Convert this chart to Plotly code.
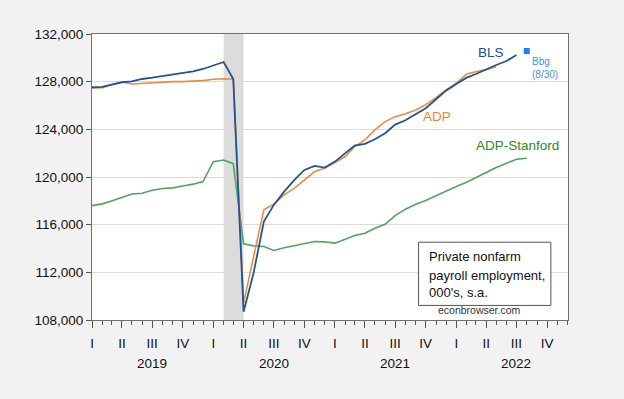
import plotly.graph_objects as go

months = [f"{y}-{m:02d}-01" for y in range(2019, 2023) for m in range(1, 13)][:44]

bls = [127530, 127555, 127750, 127950, 128030, 128225, 128335, 128480, 128590, 128700, 128870, 129065,
       129340, 129650, 128225, 108700, 111930, 116260, 117660, 118775, 119756, 120595, 120930, 120790,
       121290, 121995, 122630, 122775, 123165, 123670, 124400, 124763, 125240, 125770, 126520, 127245,
       127807, 128335, 128645, 129040, 129400, 129735, 130240]

adp = [127470, 127500, 127750, 127975, 127807, 127860, 127920, 127950, 128000, 128000, 128030, 128085,
       128200, 128250, 128200, 109420, 113300, 117240, 117720, 118500, 119060, 119756, 120455, 120735,
       121210, 121715, 122550, 123110, 123950, 124650, 125065, 125300, 125630, 126070, 126660, 127300,
       127865, 128645, 128840, 129010, 129260]

adp_stanford = [117600, 117745, 117995, 118305, 118580, 118640, 118890, 119030, 119085, 119250, 119400, 119615,
                121290, 121430, 121120, 114390, 114220, 114165, 113830, 114055, 114220, 114390, 114585, 114560,
                114448, 114780, 115085, 115280, 115700, 116035, 116760, 117300, 117720, 118020, 118440, 118810,
                119195, 119565, 119925, 120370, 120790, 121155, 121490, 121575]

bbg_month = ["2022-08-01"]
bbg_value = [130574]

quarter_ticks = [f"{y}-{m:02d}-01" for y in range(2019, 2023) for m in (1, 4, 7, 10)]
quarter_labels = ["I", "II", "III", "IV"] * 4
years = ["2019", "2020", "2021", "2022"]

FONT = "Arial, Liberation Sans, sans-serif"
fig = go.Figure()

fig.add_trace(go.Scatter(x=months[:len(adp_stanford)], y=adp_stanford, mode="lines",
                         line=dict(color="#4ea65c", width=1.6), name="ADP-Stanford"))
fig.add_trace(go.Scatter(x=months[:len(adp)], y=adp, mode="lines",
                         line=dict(color="#ec8a3e", width=1.6), name="ADP"))
fig.add_trace(go.Scatter(x=months[:len(bls)], y=bls, mode="lines",
                         line=dict(color="#1f5596", width=1.8), name="BLS"))
fig.add_trace(go.Scatter(x=bbg_month, y=bbg_value, mode="markers",
                         marker=dict(symbol="square", size=6, color="#1a80ff"), name="Bbg"))

# recession shading
fig.add_shape(type="rect", xref="x", yref="paper", x0="2020-02-01", x1="2020-04-01", y0=0, y1=1,
              fillcolor="#dcdcdc", line=dict(width=0), layer="below")

# text box
fig.add_shape(type="rect", xref="paper", yref="paper", x0=0.686, x1=0.964, y0=0.051, y1=0.272,
              fillcolor="white", line=dict(color="#555555", width=1), layer="above")
box_lines = ["Private nonfarm", "payroll employment,", "000's, s.a."]
box_y = [256.7, 275.0, 292.8]
for t, py in zip(box_lines, box_y):
    fig.add_annotation(xref="paper", yref="paper", x=(427.3 - 92) / 476, y=(320 - py) / 286,
                       text=t, showarrow=False, xanchor="left", yanchor="middle",
                       font=dict(family=FONT, size=13, color="#111111"))
fig.add_annotation(xref="paper", yref="paper", x=(479 - 92) / 476, y=(320 - 309.5) / 286,
                   text="econbrowser.com", showarrow=False, xanchor="center", yanchor="middle",
                   font=dict(family=FONT, size=10.5, color="#333333"))

# series labels
fig.add_annotation(x="2022-04-16", y=130465, text="BLS", showarrow=False, xanchor="center", yanchor="middle",
                   font=dict(family=FONT, size=13.5, color="#1f4e8c"))
fig.add_annotation(x="2021-11-04", y=125065, text="ADP", showarrow=False, xanchor="center", yanchor="middle",
                   font=dict(family=FONT, size=13.5, color="#e8892f"))
fig.add_annotation(x="2022-07-05", y=122633, text="ADP-Stanford", showarrow=False, xanchor="center",
                   yanchor="middle", font=dict(family=FONT, size=13.5, color="#2a8c2a"))
fig.add_annotation(x="2022-08-12", y=129120, text="Bbg<br>(8/30)", showarrow=False, xanchor="left",
                   yanchor="middle", align="left", font=dict(family=FONT, size=10, color="#4a90e2"))

# year labels
for i, yr in enumerate(years):
    fig.add_annotation(xref="x", yref="paper", x=f"{yr}-07-01", y=(320 - 363.3) / 286, text=yr,
                       showarrow=False, xanchor="center", yanchor="middle",
                       font=dict(family=FONT, size=13.5, color="#111111"))

fig.update_layout(
    width=624, height=399,
    margin=dict(l=92, r=56, t=34, b=79),
    paper_bgcolor="#f2f2f2", plot_bgcolor="white",
    showlegend=False,
    font=dict(family=FONT, size=13.5, color="#111111"),
)
fig.update_xaxes(type="date", range=["2019-01-01", "2022-12-03"],
                 tickmode="array", tickvals=quarter_ticks, ticktext=quarter_labels,
                 ticks="outside", ticklen=7, tickcolor="#555555", tickwidth=1,
                 minor=dict(dtick="M1", tick0="2019-01-01", ticks="outside", ticklen=4,
                            tickcolor="#555555", showgrid=False),
                 showgrid=False, showline=True, mirror=True, linecolor="#707070", linewidth=1,
                 ticklabelstandoff=4, tickfont=dict(size=13.5, family=FONT, color="#111111"))
fig.update_yaxes(range=[108000, 132000], dtick=4000, tick0=108000, tickformat=",d",
                 ticks="outside", ticklen=5, tickcolor="#555555",
                 showgrid=True, gridcolor="#dcdcdc", gridwidth=1, zeroline=False,
                 showline=True, mirror=True, linecolor="#707070", linewidth=1,
                 tickfont=dict(size=13.5, family=FONT, color="#111111"))

fig.write_html("out.html",
               config={"displayModeBar": False},
               post_script="document.body.style.margin='0';document.body.style.padding='0';"
                           "document.body.style.background='#f2f2f2';"
                           "document.body.style.overflow='hidden';")
